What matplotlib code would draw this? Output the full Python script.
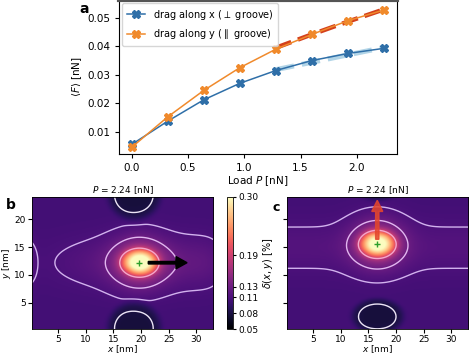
import numpy as np
import matplotlib
matplotlib.use("Agg")
import matplotlib.pyplot as plt

# ---- panel a data ----
load = [0.0, 0.32, 0.64, 0.96, 1.28, 1.60, 1.92, 2.24]
force_x = [0.0055, 0.0137, 0.0212, 0.0270, 0.0315, 0.0350, 0.0375, 0.0393]
force_y = [0.0045, 0.0152, 0.0245, 0.0325, 0.0390, 0.0442, 0.0490, 0.0528]
fit_load = [1.28, 1.60, 1.92, 2.24]
fit_x = [0.0318, 0.0344, 0.0370, 0.0396]
fit_y = [0.0395, 0.0442, 0.0487, 0.0530]

# ---- panels b, c: strain map parameters ----
levels = [0.08, 0.11, 0.13, 0.19]
level_colors = ['#ece4f6', '#d2b2ee', '#e2b6f0', '#f4a6cc']
cbar_ticks = [0.05, 0.08, 0.11, 0.13, 0.19, 0.30]
period = (33.3, 24.0)
base = 0.105
peak_b = (19.7, 12.2)
peak_c = (16.6, 15.5)
# ridge: y centre, amplitude, left decay length, right decay length
ridge_b = (12.2, 0.0183, 13.4, 14.6)
ridge_c = (14.9, 0.0102, 1e6, 1e6)
dip_b = (18.7, 0.4, 3.5, 3.4)     # x, y, rx, ry of the 0.08 contour
dip_c = (16.6, 2.5, 3.4, 2.3)
arrow_b = (21.3, 12.2, 5.0, 0.0)
arrow_c = (16.6, 16.4, 0.0, 5.0)


def wrap(d, L):
    return (d + L / 2) % L - L / 2


def strain_map(X, Y, peak, ridge, dip):
    Lx, Ly = period
    dx = wrap(X - peak[0], Lx)
    dy = wrap(Y - peak[1], Ly)
    r_core = np.sqrt((dx / 1.4) ** 2 + dy ** 2)
    core = 0.135 * np.exp(-(r_core / 2.26) ** 3)
    wide = 0.065 * np.exp(-((dx / 1.1) ** 2 + dy ** 2) / (2 * 2.9 ** 2))
    ry = wrap(Y - ridge[0], Ly)
    left = np.exp(-(dx / ridge[2]) ** 2)
    right = np.exp(-(np.clip(dx, 0, None) / ridge[3]) ** 10)
    h = np.maximum(np.where(dx < 0, left, right), 0.21)
    rdg = ridge[1] * np.exp(-ry ** 2 / (2 * 3.1 ** 2)) * h
    ddx = wrap(X - dip[0], Lx)
    ddy = wrap(Y - dip[1], Ly)
    r_dip = np.sqrt((ddx / dip[2]) ** 2 + (ddy / dip[3]) ** 2)
    low = 0.027 * np.exp(-(r_dip / 1.378) ** 8)
    return base + core + wide + rdg - low


xs = np.linspace(0.3, 33.0, 200)
ys = np.linspace(0.3, 24.0, 150)
X, Y = np.meshgrid(xs, ys)
Zb = strain_map(X, Y, peak_b, ridge_b, dip_b)
Zc = strain_map(X, Y, peak_c, ridge_c, dip_c)

plt.rcParams['font.family'] = 'DejaVu Sans'
fig = plt.figure(figsize=(4.74, 3.54), dpi=100)

# ---- panel a ----
ax = fig.add_axes([0.251, 0.565, 0.587, 0.435])
ax.plot(fit_load, fit_x, ls='--', lw=3.6, color='#9ecae1', alpha=0.8, zorder=1)
ax.plot(fit_load, fit_y, ls='--', lw=3.2, color='#d4401c', zorder=1)
ax.plot(load, force_x, '-X', color='#2f6fa8', lw=1.1, ms=5.5,
        label='drag along x ($\\perp$ groove)', zorder=3)
ax.plot(load, force_y, '-X', color='#f08a2c', lw=1.1, ms=5.5,
        label='drag along y ($\\parallel$ groove)', zorder=3)
ax.set_xlim(-0.113, 2.358)
ax.set_ylim(0.00215, 0.0563)
ax.set_xticks([0.0, 0.5, 1.0, 1.5, 2.0])
ax.set_yticks([0.01, 0.02, 0.03, 0.04, 0.05])
ax.tick_params(labelsize=7.5, length=3)
ax.set_xlabel('Load $P$ [nN]', fontsize=7.5, labelpad=1)
ax.set_ylabel(r'$\langle F\rangle$ [nN]', fontsize=7.5, labelpad=2)
ax.spines['top'].set_linewidth(3)
ax.spines['top'].set_color('#555555')
ax.legend(loc='upper left', fontsize=7.0, handlelength=1.9, borderaxespad=0.35,
          labelspacing=0.55, borderpad=0.45)
fig.text(0.168, 0.993, 'a', fontsize=10, fontweight='bold', va='top')

# ---- panels b and c ----
norm = matplotlib.colors.Normalize(vmin=0.05, vmax=0.30)
axb = fig.add_axes([0.0675, 0.0706, 0.382, 0.373])
axc = fig.add_axes([0.6055, 0.0706, 0.382, 0.373])
for a, Z, pk in [(axb, Zb, peak_b), (axc, Zc, peak_c)]:
    im = a.imshow(Z, origin='lower', extent=(xs[0], xs[-1], ys[0], ys[-1]),
                  cmap='magma', norm=norm, aspect='auto', interpolation='bilinear')
    a.contour(X, Y, Z, levels=levels, colors=level_colors, linewidths=1.0)
    a.plot(pk[0], pk[1], '+', color='#2ca02c', ms=5, mew=1.0)
    a.set_xlim(xs[0], xs[-1])
    a.set_ylim(ys[0], ys[-1])
    a.set_xticks([5, 10, 15, 20, 25, 30])
    a.set_yticks([5, 10, 15, 20])
    a.tick_params(labelsize=6.5, length=3, pad=1.5)
    a.set_xlabel('$x$ [nm]', fontsize=6.5, labelpad=-0.5)
    a.set_title('$P$ = 2.24 [nN]', fontsize=6.5, pad=2.5)
    for s in a.spines.values():
        s.set_linewidth(0.6)

axb.set_ylabel('$y$ [nm]', fontsize=6.5, labelpad=1)
axc.tick_params(labelleft=False)
axb.arrow(*arrow_b, width=0.45, head_width=2.2, head_length=2.0,
          color='black', zorder=5)
axc.arrow(*arrow_c, width=0.6, head_width=2.0, head_length=2.0,
          color='#e4462c', alpha=0.85, zorder=5)

cax = fig.add_axes([0.479, 0.0706, 0.0127, 0.373])
cb = fig.colorbar(im, cax=cax, ticks=cbar_ticks, format='%.2f')
cb.ax.tick_params(labelsize=6.5, length=2, pad=1.5)
cb.outline.set_linewidth(0.6)
cb.set_label(r'$\delta(x, y)$ [%]', fontsize=7, labelpad=2)

fig.text(0.012, 0.41, 'b', fontsize=10, fontweight='bold')
fig.text(0.574, 0.405, 'c', fontsize=9, fontweight='bold')

fig.savefig('out.png', dpi=100)
